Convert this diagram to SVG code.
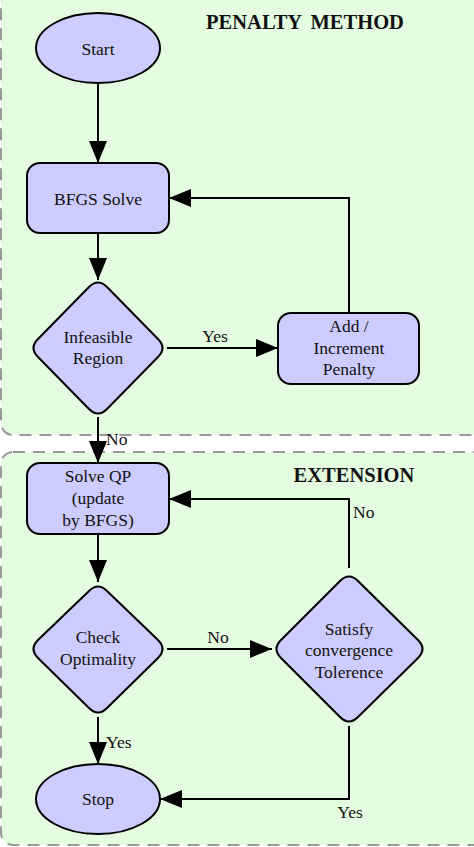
<svg xmlns="http://www.w3.org/2000/svg" width="474" height="847" viewBox="0 0 474 847" font-family="'Liberation Serif', 'Times New Roman', 'DejaVu Serif', serif">
<defs>
<style>
.panel{fill:#e4fde0;stroke:#9a9a9a;stroke-width:2;stroke-dasharray:12 8}
.node{fill:#ccccff;stroke:#000;stroke-width:2}
.edge{fill:none;stroke:#000;stroke-width:2}
text{font-family:'Liberation Serif','Times New Roman','DejaVu Serif',serif;font-size:17.5px;fill:#111;text-anchor:middle}
.title{font-weight:bold;font-size:20.5px}
.lbl{text-anchor:start}
</style>
<marker id="ah" viewBox="0 0 22 18" refX="22" refY="9" markerWidth="22" markerHeight="18" markerUnits="userSpaceOnUse" orient="auto">
<path d="M0,0 L22,9 L0,18 Z" fill="#000"/>
</marker>
</defs>
<rect width="474" height="847" fill="#ffffff"/>
<g id="panel-penalty">
<rect class="panel" x="1" y="-10" width="484" height="445" rx="12"/>
<text class="title" x="305" y="29" word-spacing="4">PENALTY METHOD</text>
</g>
<g id="panel-extension">
<rect class="panel" x="1" y="452" width="484" height="393" rx="12"/>
<text class="title" x="354" y="482">EXTENSION</text>
</g>
<g id="connectors">
<path class="edge" d="M98,83 V163" marker-end="url(#ah)"/>
<path class="edge" d="M98,233 V280" marker-end="url(#ah)"/>
<path class="edge" d="M167,348 H278" marker-end="url(#ah)"/>
<path class="edge" d="M349,313 V198 H169" marker-end="url(#ah)"/>
<path class="edge" d="M98,417 V463" marker-end="url(#ah)"/>
<path class="edge" d="M98,534 V582" marker-end="url(#ah)"/>
<path class="edge" d="M167,649 H272" marker-end="url(#ah)"/>
<path class="edge" d="M349,568 V499 H169" marker-end="url(#ah)"/>
<path class="edge" d="M98,717 V764" marker-end="url(#ah)"/>
<path class="edge" d="M349,726 V799 H160" marker-end="url(#ah)"/>
<text x="215" y="342">Yes</text>
<text class="lbl" x="106" y="445">No</text>
<text class="lbl" x="353" y="518">No</text>
<text x="218" y="643">No</text>
<text class="lbl" x="106" y="748">Yes</text>
<text x="350" y="818">Yes</text>
</g>
<g id="start">
<ellipse class="node" cx="98" cy="48" rx="62" ry="35"/>
<text x="98" y="55">Start</text>
</g>
<g id="bfgs-solve">
<rect class="node" x="27" y="163" width="142" height="70" rx="13"/>
<text x="98" y="205">BFGS Solve</text>
</g>
<g id="infeasible">
<path class="node" d="M89,287 Q98,278 107,287 L158,339 Q167,348 158,357 L107,409 Q98,418 89,409 L38,357 Q29,348 38,339 Z"/>
<text x="98" y="343">Infeasible</text>
<text x="98" y="364">Region</text>
</g>
<g id="add-penalty">
<rect class="node" x="278" y="313" width="141" height="71" rx="13"/>
<text x="349" y="332">Add /</text>
<text x="349" y="354">Increment</text>
<text x="349" y="375">Penalty</text>
</g>
<g id="solve-qp">
<rect class="node" x="27" y="463" width="142" height="71" rx="13"/>
<text x="98" y="482">Solve QP</text>
<text x="98" y="504">(update</text>
<text x="98" y="526">by BFGS)</text>
</g>
<g id="check-optimality">
<path class="node" d="M89,591 Q98,582 107,591 L158,640 Q167,649 158,658 L107,708 Q98,717 89,708 L38,658 Q29,649 38,640 Z"/>
<text x="98" y="643">Check</text>
<text x="98" y="665">Optimality</text>
</g>
<g id="satisfy">
<path class="node" d="M340,581 Q349,572 358,581 L418,640 Q427,649 418,658 L358,717 Q349,726 340,717 L281,658 Q272,649 281,640 Z"/>
<text x="349" y="635">Satisfy</text>
<text x="349" y="656">convergence</text>
<text x="349" y="678">Tolerence</text>
</g>
<g id="stop">
<ellipse class="node" cx="98" cy="799" rx="62" ry="35"/>
<text x="98" y="805">Stop</text>
</g>
</svg>
